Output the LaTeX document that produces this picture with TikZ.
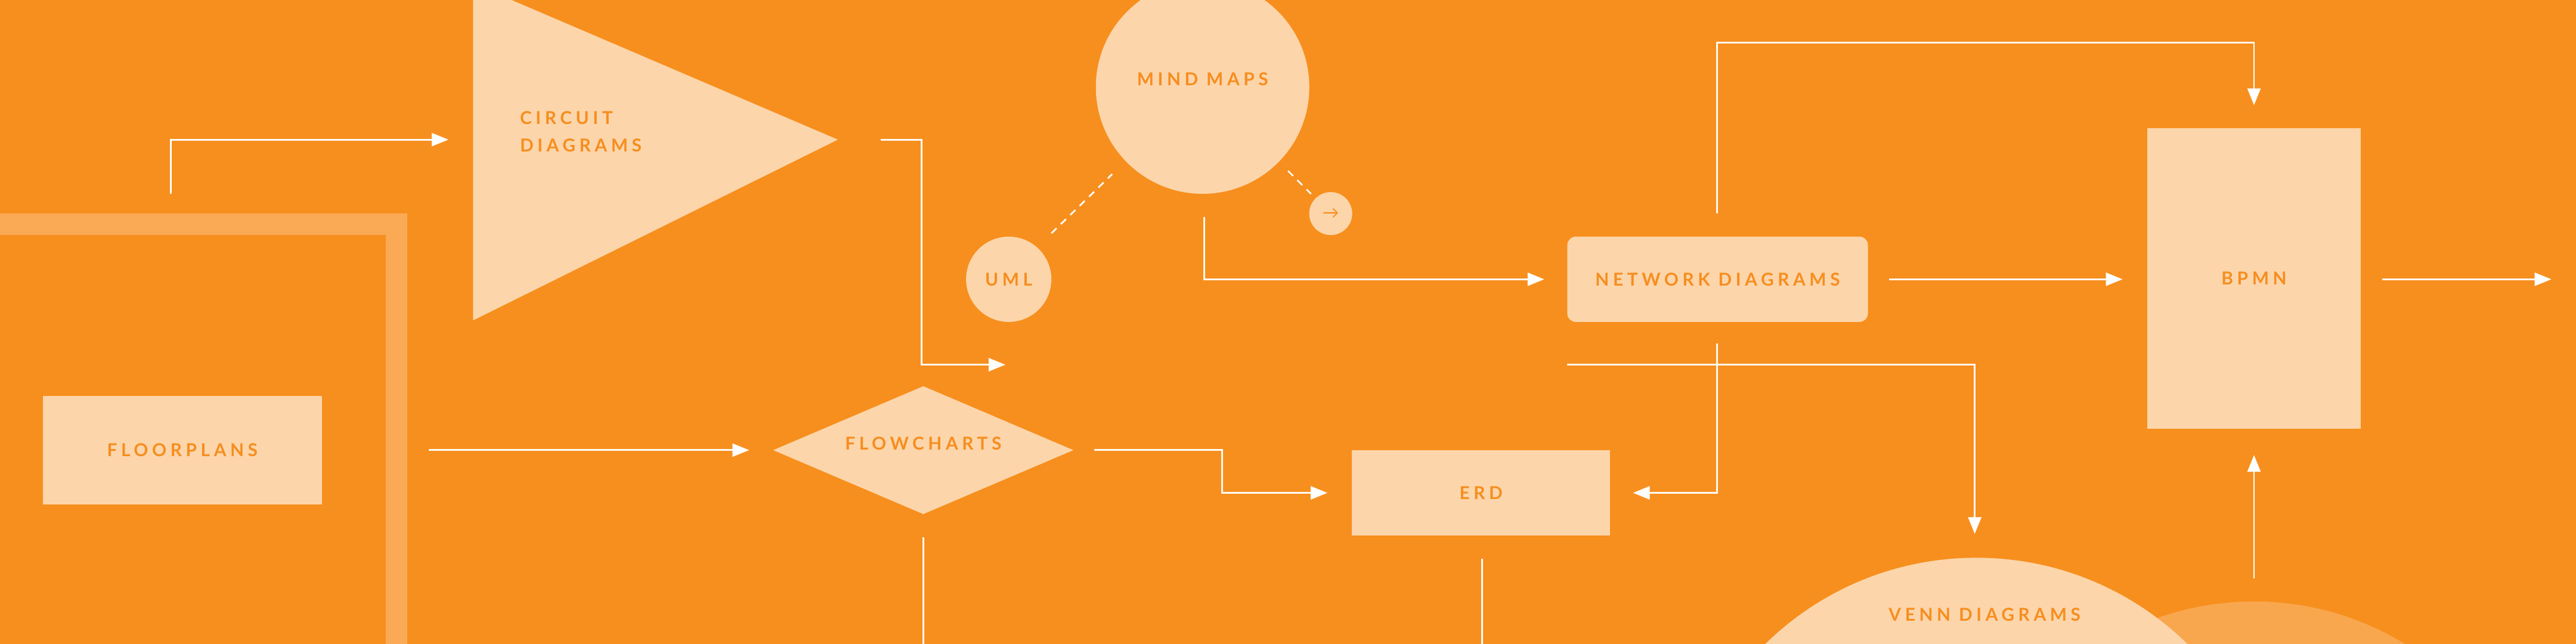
\documentclass[tikz,border=0pt]{standalone}
\usepackage{fontspec}
\setmainfont{Lato}
\newfontfamily\tagfont[LetterSpace=22]{Lato Bold}
\usetikzlibrary{arrows.meta, shapes.geometric}
\definecolor{bgorange}{HTML}{F78F1E}
\definecolor{peach}{HTML}{FDD5AA}
\definecolor{txtorange}{HTML}{F68E1F}
\definecolor{frameorange}{HTML}{FAAA55}
\tikzset{
	shape box/.style={fill=peach, inner sep=0pt, text=txtorange, font=\tagfont\fontsize{8.5}{11}\selectfont},
	link/.style={draw=white, line width=0.8pt, -{Triangle[length=2.8mm,width=2.2mm]}},
	plain link/.style={draw=white, line width=0.8pt},
	dash link/.style={draw=white, line width=0.8pt, dashed, dash pattern=on 1.2mm off 1mm}
}
\begin{document}
\begin{tikzpicture}[x=0.2755mm, y=-0.2755mm]
		\useasboundingbox (0,0) rectangle (1568,392);
		\clip (0,0) rectangle (1568,392);
		\fill[bgorange] (0,0) rectangle (1568,392);
		% floorplan frame
		\fill[frameorange] (0,130) rectangle (248,143);
		\fill[frameorange] (235,130) rectangle (248,392);
		\node[shape box, minimum width=46.8mm, minimum height=18.2mm] (floor) at (111,274) {FLOORPLANS};
		% circuit triangle
		\fill[peach] (288,-10) -- (510,85) -- (288,195) -- cycle;
		\node[text=txtorange, font=\tagfont\fontsize{8.5}{13}\selectfont, align=left, anchor=west] (circuit) at (312,80) {CIRCUIT\\DIAGRAMS};
		\node[shape box, circle, minimum size=35.8mm] (mind) at (732,53) {};
		\node[text=txtorange, font=\tagfont\fontsize{8.5}{11}\selectfont] (mindtxt) at (732,48) {MIND MAPS};
		\node[shape box, circle, minimum size=14.3mm] (uml) at (614,170) {UML};
		\node[shape box, circle, minimum size=7.2mm, font=\fontsize{8}{9}\selectfont] (go) at (810,130) {→};
		\node[shape box, rounded corners=1.4mm, minimum width=50.4mm, minimum height=14.3mm] (network) at (1045.5,170) {NETWORK DIAGRAMS};
		\node[shape box, minimum width=35.8mm, minimum height=50.4mm] (bpmn) at (1372,169.5) {BPMN};
		\node[shape box, diamond, minimum width=50.4mm, minimum height=21.5mm] (flow) at (562,274) {};
		\node[text=txtorange, font=\tagfont\fontsize{8.5}{11}\selectfont] (flowtxt) at (562,270) {FLOWCHARTS};
		\node[shape box, minimum width=43.3mm, minimum height=14.3mm] (erd) at (901.5,300) {ERD};
		\node[shape box, circle, minimum size=101.1mm] (venn) at (1203,523) {};
		\node[text=txtorange, font=\tagfont\fontsize{8.5}{11}\selectfont] (venntxt) at (1208,374) {VENN DIAGRAMS};
		\node[circle, fill=peach, opacity=0.35, minimum size=96.9mm] (extra) at (1372,542) {};
		% connectors
		\coordinate (a1) at (104,118); \coordinate (a2) at (273,85);
		\coordinate (b1) at (536,85); \coordinate (b2) at (612,222);
		\coordinate (c1) at (733,132); \coordinate (c2) at (940,170);
		\coordinate (d1) at (1045,130); \coordinate (d2) at (1372,64);
		\coordinate (e1) at (1150,170); \coordinate (e2) at (1292,170);
		\coordinate (f1) at (1450,170); \coordinate (f2) at (1553,170);
		\coordinate (g1) at (261,274); \coordinate (g2) at (456,274);
		\coordinate (h1) at (666,274); \coordinate (h2) at (808,300);
		\coordinate (i1) at (1045,209); \coordinate (i2) at (994,300);
		\coordinate (j1) at (954,222); \coordinate (j2) at (1202,325);
		\coordinate (k1) at (1372,352); \coordinate (k2) at (1372,277);
		\draw[link] (a1) |- (a2);
		\draw[link] (b1) -| (561,222) -- (b2);
		\draw[link] (c1) |- (c2);
		\draw[link] (d1) |- (1372,26) -- (d2);
		\draw[link] (e1) -- (e2);
		\draw[link] (f1) -- (f2);
		\draw[link] (g1) -- (g2);
		\draw[link] (h1) -| (744,300) -- (h2);
		\draw[link] (i1) |- (i2);
		\draw[link] (j1) -| (j2);
		\draw[link] (k1) -- (k2);
		\draw[plain link] (562,327) -- (562,400);
		\draw[plain link] (902,340) -- (902,400);
		\draw[dash link] (640,142) -- (677,106);
		\draw[dash link] (784,104) -- (798,118);
	\end{tikzpicture}
\end{document}
